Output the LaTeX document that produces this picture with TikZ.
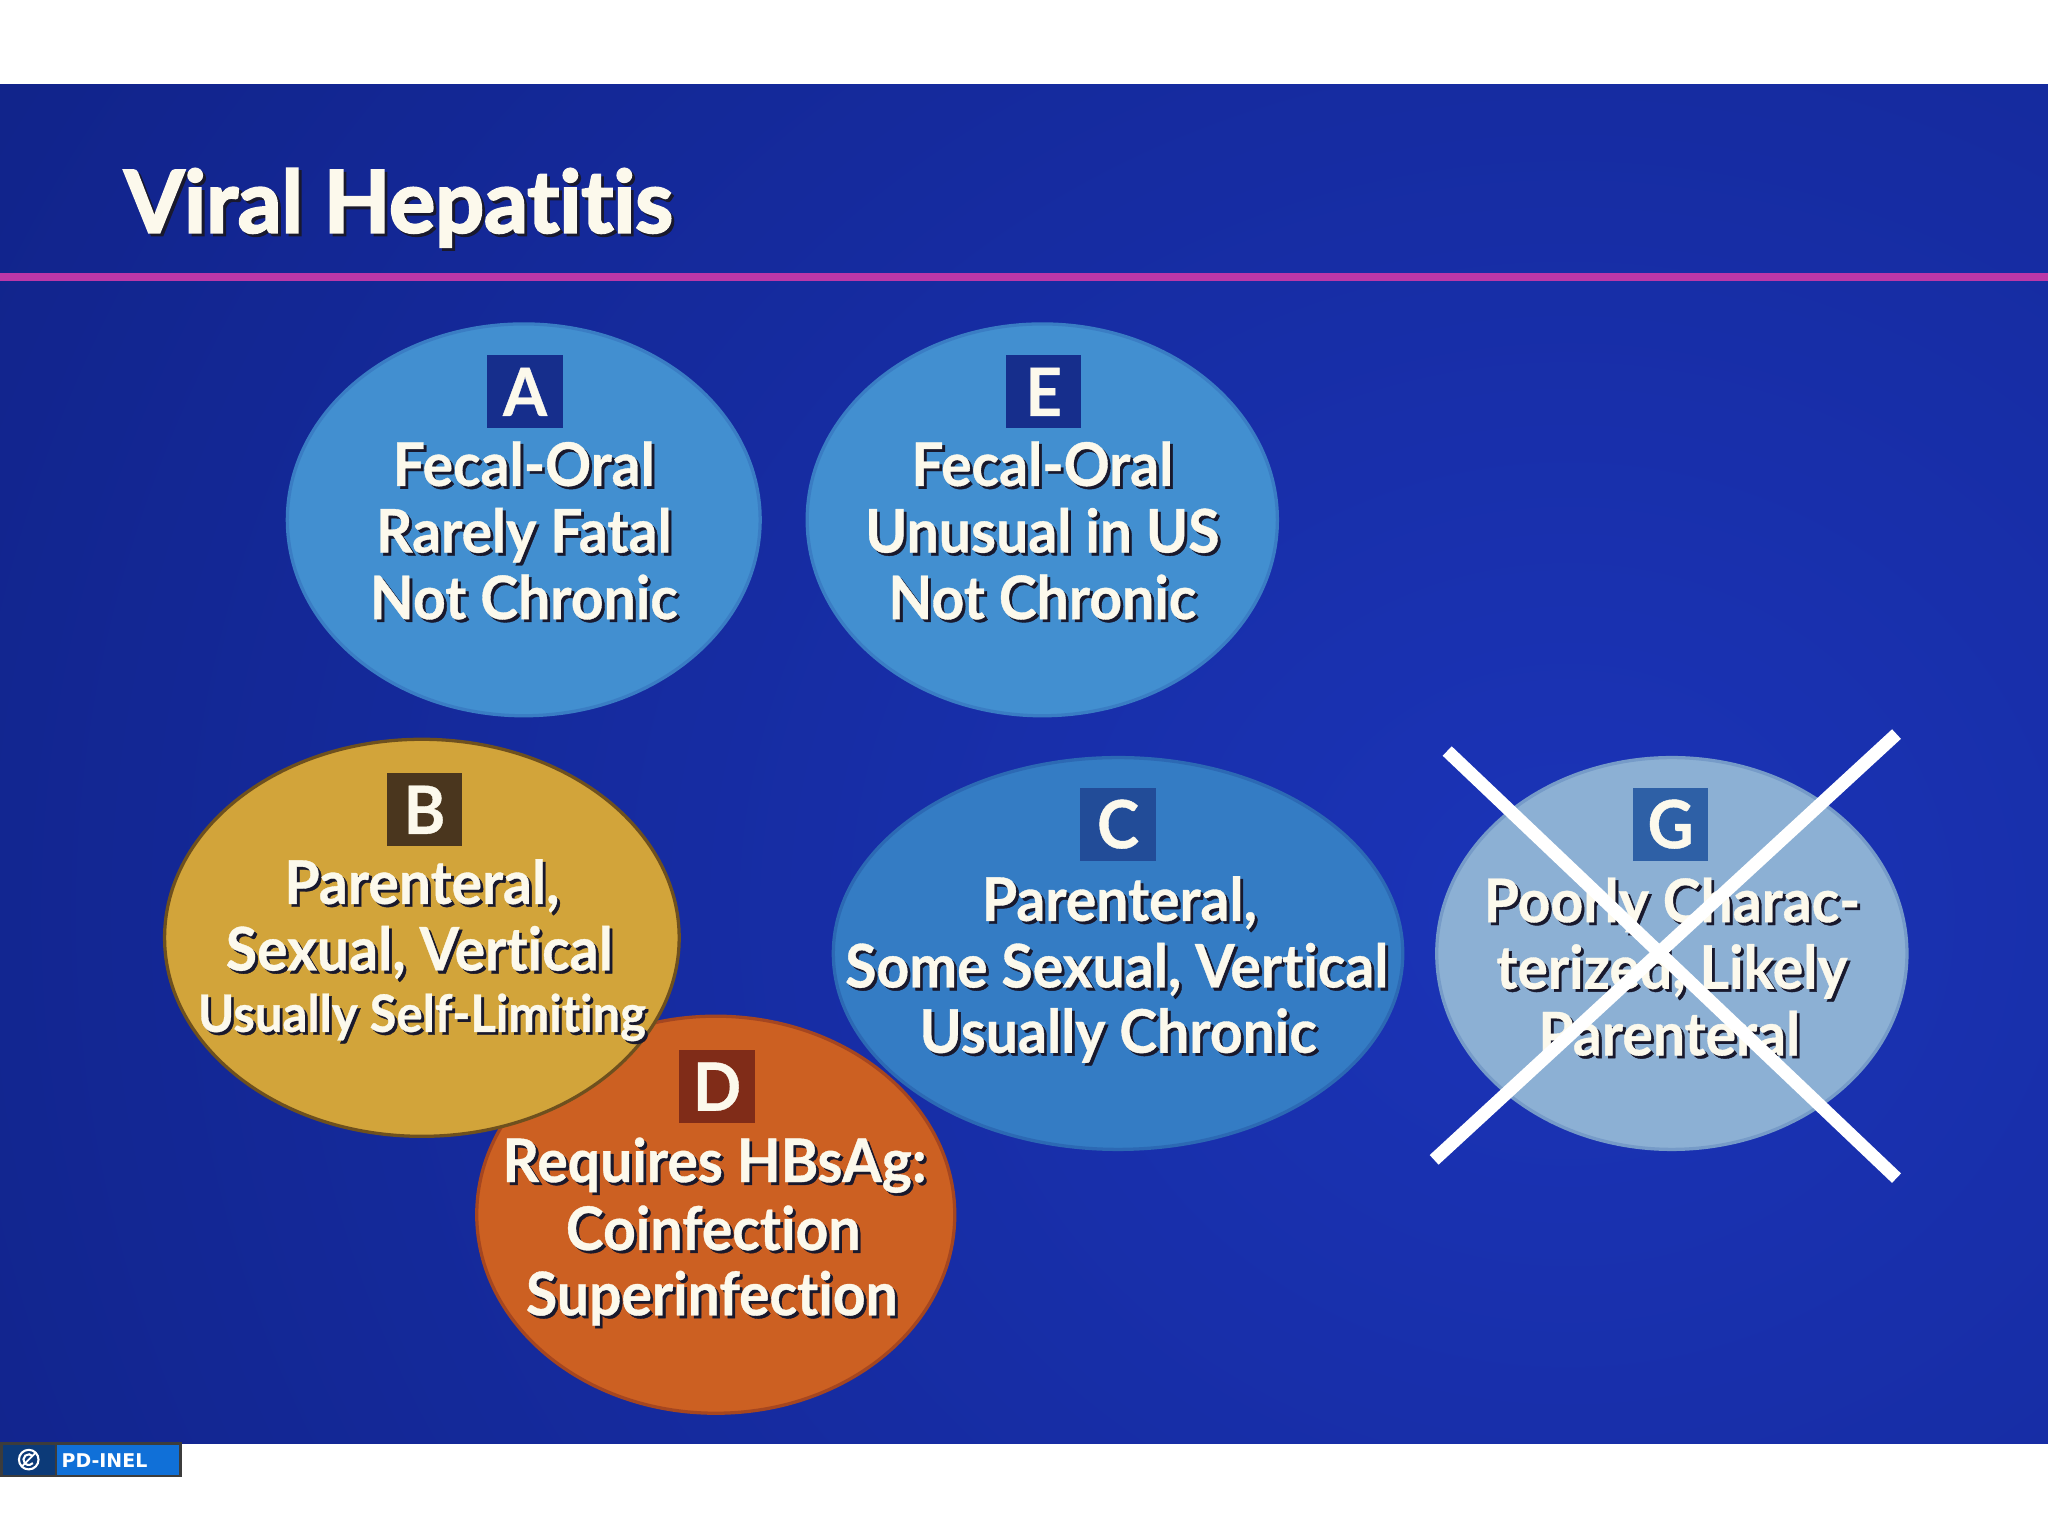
\documentclass[tikz,border=0pt]{standalone}
\usepackage{fontspec}
\setmainfont{Lato}[FakeStretch=0.95, Ligatures=NoCommon, BoldFeatures={FakeBold=0.6}]
\newfontfamily\titlefont{Lato}[Ligatures=NoCommon, BoldFeatures={FakeBold=2.6}]
\newfontfamily\badgefont{DejaVu Sans}
\usetikzlibrary{shapes.geometric,calc}
\definecolor{bgin}{RGB}{27,52,184}
\definecolor{bgout}{RGB}{11,26,112}
\definecolor{magline}{RGB}{188,55,168}
\definecolor{txtcol}{RGB}{252,249,236}
\definecolor{shcol}{RGB}{25,25,45}
\definecolor{afill}{RGB}{66,143,208}
\definecolor{aedge}{RGB}{58,125,196}
\definecolor{cfill}{RGB}{52,124,196}
\definecolor{cedge}{RGB}{44,105,180}
\definecolor{gfill}{RGB}{140,176,212}
\definecolor{gedge}{RGB}{118,155,200}
\definecolor{bfill}{RGB}{210,164,58}
\definecolor{bedge}{RGB}{110,80,30}
\definecolor{dfill}{RGB}{204,96,34}
\definecolor{dedge}{RGB}{165,70,32}
\definecolor{abox}{RGB}{22,46,140}
\definecolor{cbox}{RGB}{34,76,152}
\definecolor{gbox}{RGB}{46,96,166}
\definecolor{bbox}{RGB}{74,54,30}
\definecolor{dbox}{RGB}{128,44,24}
\definecolor{badgeborder}{RGB}{60,60,60}
\definecolor{badgeleft}{RGB}{12,58,120}
\definecolor{badgeright}{RGB}{16,112,216}
\newcommand\shtxt[1]{\rlap{\kern2.2pt\raisebox{-2.2pt}{\textcolor{shcol}{#1}}}#1}
\tikzset{
  blob/.style={ellipse, inner sep=0pt, line width=2.5pt},
  letterbox/.style={minimum width=58pt, minimum height=56pt, inner sep=0pt,
    text=txtcol, font=\bfseries\fontsize{51}{51}\selectfont},
  lbl/.style={anchor=base, inner sep=0pt, text=txtcol,
    font=\bfseries\fontsize{46}{51}\selectfont},
  lblsmall/.style={lbl, font=\bfseries\fontsize{39.5}{46}\selectfont},
  crossline/.style={draw=white, line width=10pt},
}
\begin{document}
\begin{tikzpicture}[x=1pt,y=-1pt]
\useasboundingbox (0,0) rectangle (1568,1176);
\fill[white] (0,0) rectangle (1568,1176);
\begin{scope}
  \clip (0,65) rectangle (1568,1105);
  \shade[inner color=bgin, outer color=bgout] (-1000,-1300) rectangle (3400,2700);
\end{scope}
% title
\node[anchor=base west, inner sep=0pt, text=txtcol,
  font=\titlefont\bfseries\fontsize{66}{66}\selectfont] (title) at (95,178) {\shtxt{Viral Hepatitis}};
\fill[magline] (0,209) rectangle (1568,215);

% A
\node[blob, fill=afill, draw=aedge, minimum width=362pt, minimum height=300pt] (A) at (401,398) {};
\node[letterbox, fill=abox] (Abox) at (402,300) {A};
\node[lbl] (A1) at (401,372) {\shtxt{Fecal-Oral}};
\node[lbl] (A2) at (401,423) {\shtxt{Rarely Fatal}};
\node[lbl] (A3) at (401,474) {\shtxt{Not Chronic}};
% E
\node[blob, fill=afill, draw=aedge, minimum width=360pt, minimum height=300pt] (E) at (798,398) {};
\node[letterbox, fill=abox] (Ebox) at (799,300) {E};
\node[lbl] (E1) at (798,372) {\shtxt{Fecal-Oral}};
\node[lbl] (E2) at (798,423) {\shtxt{Unusual in US}};
\node[lbl] (E3) at (798,474) {\shtxt{Not Chronic}};
% C
\node[blob, fill=cfill, draw=cedge, minimum width=436pt, minimum height=300pt] (C) at (856,730) {};
\node[letterbox, fill=cbox] (Cbox) at (856,631) {C};
\node[lbl] (C1) at (857,705) {\shtxt{Parenteral,}};
\node[lbl] (C2) at (855,756) {\shtxt{Some Sexual, Vertical}};
\node[lbl] (C3) at (856,806) {\shtxt{Usually Chronic}};
% G
\node[blob, fill=gfill, draw=gedge, minimum width=360pt, minimum height=300pt] (G) at (1280,730) {};
\node[letterbox, fill=gbox] (Gbox) at (1279,631) {G};
\node[lbl] (G1) at (1280,706) {\shtxt{Poorly Charac-}};
\node[lbl] (G2) at (1280,757) {\shtxt{terized, Likely}};
\node[lbl] (G3) at (1278,808) {\shtxt{Parenteral}};
% D
\node[blob, fill=dfill, draw=dedge, minimum width=366pt, minimum height=304pt] (D) at (548,930) {};
\node[letterbox, fill=dbox] (Dbox) at (549,832) {D};
\node[lbl] (D1) at (547,905) {\shtxt{Requires HBsAg:}};
\node[lbl] (D2) at (546,957) {\shtxt{Coinfection}};
\node[lbl] (D3) at (545,1007) {\shtxt{Superinfection}};
% B
\node[blob, fill=bfill, draw=bedge, minimum width=394pt, minimum height=304pt] (B) at (323,718) {};
\node[letterbox, fill=bbox] (Bbox) at (325,620) {B};
\node[lbl] (B1) at (323,692) {\shtxt{Parenteral,}};
\node[lbl] (B2) at (321,743) {\shtxt{Sexual, Vertical}};
\node[lblsmall] (B3) at (323,790) {\shtxt{Usually Self-Limiting}};

% cross over G
\coordinate (xa1) at (1108,575);
\coordinate (xa2) at (1452,902);
\coordinate (xb1) at (1452,562);
\coordinate (xb2) at (1098,888);
\draw[crossline] (xa1) -- (xa2);
\draw[crossline] (xb1) -- (xb2);

% badge
\fill[badgeborder] (0,1104) rectangle (139,1131);
\fill[badgeleft] (2,1106) rectangle (42,1129);
\fill[badgeright] (44,1106) rectangle (137,1129);
\coordinate (pdc) at (22,1117.5);
\draw[white, line width=1.6pt] (pdc) circle (7.5);
\draw[white, line width=1.6pt] ($(pdc)+(3.2,-2.6)$) arc (-40:-320:4.1);
\draw[white, line width=1.4pt] ($(pdc)+(-5,5)$) -- ($(pdc)+(5,-5)$);
\node[anchor=west, inner sep=0pt, text=white, font=\badgefont\bfseries\fontsize{14.5}{14.5}\selectfont] (pd) at (47,1118) {PD-INEL};
\end{tikzpicture}
\end{document}
